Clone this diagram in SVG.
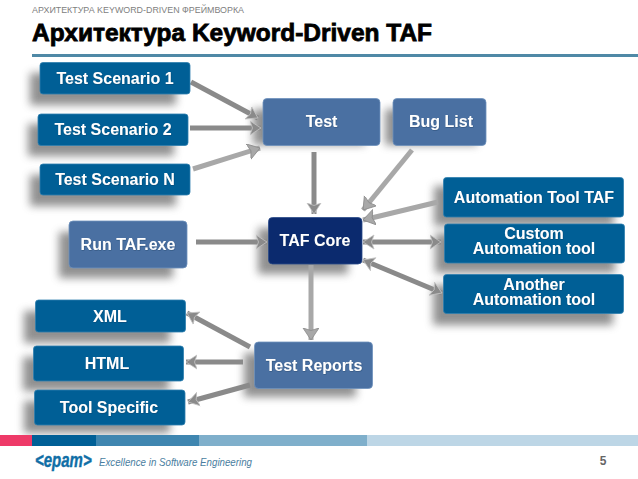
<svg xmlns="http://www.w3.org/2000/svg" width="638" height="479" viewBox="0 0 638 479">
<defs>
<style>
.t{font-family:"Liberation Sans",Arial,sans-serif;font-weight:700;font-size:16px;fill:#fff;text-anchor:middle;filter:url(#ts)}
.sc{fill:#005f96;stroke:#2f7fae;stroke-width:.8}
.st{fill:#4a70a2;stroke:#6f92bd;stroke-width:.8}
.sh{fill:#666;opacity:.72;filter:url(#bl)}
.a{stroke:#8a8a8a;stroke-width:5;fill:none;marker-end:url(#h)}
.b{stroke:#8a8a8a;stroke-width:5;fill:none;marker-end:url(#h);marker-start:url(#hs)}
.l{stroke:#a8a8a8;stroke-width:5;fill:none;marker-end:url(#hl)}
</style>
<filter id="bl" x="-20%" y="-40%" width="140%" height="180%"><feGaussianBlur stdDeviation="4"/></filter>
<filter id="ts" x="-10%" y="-30%" width="120%" height="160%"><feDropShadow dx="0.4" dy="0.6" stdDeviation="0.4" flood-color="#103050" flood-opacity=".5"/></filter>
<marker id="h" markerUnits="userSpaceOnUse" markerWidth="14" markerHeight="18" refX="11" refY="8" orient="auto"><path d="M0 1L11 8L0 15L2.500 8Z" fill="#8a8a8a" stroke="#c4c4c4" stroke-width=".8"/></marker>
<marker id="hs" markerUnits="userSpaceOnUse" markerWidth="14" markerHeight="18" refX="0" refY="8" orient="auto"><path d="M11 1L0 8L11 15L8.500 8Z" fill="#8a8a8a" stroke="#c4c4c4" stroke-width=".8"/></marker>
<marker id="hl" markerUnits="userSpaceOnUse" markerWidth="16" markerHeight="18" refX="12" refY="8" orient="auto"><path d="M0 0L12 8L0 16L2.500 8Z" fill="#a8a8a8" stroke="#8a8a8a" stroke-width=".8"/></marker>
</defs>
<rect width="638" height="479" fill="#fff"/>
<g id="header">
<text x="32" y="13" font-family="Liberation Sans,Arial,sans-serif" font-size="9.800" fill="#808080" textLength="212" lengthAdjust="spacingAndGlyphs">АРХИТЕКТУРА KEYWORD-DRIVEN ФРЕЙМВОРКА</text>
<text x="32" y="41" font-family="Liberation Sans,Arial,sans-serif" font-size="24" font-weight="700" fill="#000" stroke="#000" stroke-width=".8" textLength="400" lengthAdjust="spacingAndGlyphs">Архитектура Keyword-Driven TAF</text>
<rect x="32" y="54" width="606" height="3" fill="#4f89a6"/>
</g>
<g id="shadows">
<rect class="sh" x="30" y="73" width="146" height="32"/>
<rect class="sh" x="28" y="124" width="146" height="32"/>
<rect class="sh" x="30" y="175" width="146" height="31"/>
<rect class="sh" x="253" y="109" width="112" height="36"/>
<rect class="sh" x="385" y="109" width="92" height="36"/>
<rect class="sh" x="434" y="186" width="180" height="40"/>
<rect class="sh" x="435" y="233" width="180" height="40"/>
<rect class="sh" x="433" y="285" width="180" height="40"/>
<rect class="sh" x="258" y="228" width="90" height="46"/>
<rect class="sh" x="59" y="232" width="114" height="46"/>
<rect class="sh" x="24" y="311" width="146" height="32"/>
<rect class="sh" x="23" y="357" width="146" height="34"/>
<rect class="sh" x="24" y="401" width="146" height="32"/>
<rect class="sh" x="244" y="353" width="112" height="44"/>
</g>
<g id="footer">
<rect x="0" y="435" width="32" height="11" fill="#ee3a68"/>
<rect x="32" y="435" width="64" height="11" fill="#005f96"/>
<rect x="96" y="435" width="103" height="11" fill="#3f86b0"/>
<rect x="199" y="435" width="168" height="11" fill="#7fafcb"/>
<rect x="367" y="435" width="271" height="11" fill="#bdd6e6"/>
<text transform="translate(35 467) scale(1 1.35)" font-family="Liberation Sans,Arial,sans-serif" font-size="15" font-weight="700" font-style="italic" fill="#0f6ea6" stroke="#0f6ea6" stroke-width=".3">&lt;epam&gt;</text>
<text x="99" y="466" font-family="Liberation Sans,Arial,sans-serif" font-size="10.600" font-style="italic" fill="#4a7ea0" textLength="153" lengthAdjust="spacingAndGlyphs">Excellence in Software Engineering</text>
<text x="603" y="465" font-family="Liberation Sans,Arial,sans-serif" font-size="12" font-weight="700" fill="#666" text-anchor="middle">5</text>
</g>
<g id="connectors">
<path class="a" d="M191 82L258 118"/>
<path class="a" d="M190 128L261 128"/>
<path class="l" d="M193 169L260 148"/>
<path class="a" d="M314 152V214"/>
<path class="l" d="M412 150L363 210"/>
<path class="l" d="M438 202L363 220"/>
<path class="b" d="M363 242H441"/>
<path class="b" d="M363 260L442 293"/>
<path class="a" d="M196 242H267"/>
<path class="l" d="M311 265V340"/>
<path class="a" d="M250 347L187 313"/>
<path class="a" d="M243 362H186"/>
<path class="a" d="M250 385L188 402"/>
</g>
<g id="n-ts1"><rect class="sc" x="40" y="62.500" width="150" height="31.500" rx="3"/><text class="t" x="115" y="84">Test Scenario 1</text></g>
<g id="n-ts2"><rect class="sc" x="38" y="114" width="150" height="31.500" rx="3"/><text class="t" x="113" y="135">Test Scenario 2</text></g>
<g id="n-tsn"><rect class="sc" x="40" y="164" width="150" height="31" rx="3"/><text class="t" x="115" y="185">Test Scenario N</text></g>
<g id="n-test"><rect class="st" x="263" y="98.500" width="117" height="47" rx="4"/><text class="t" x="321.500" y="127">Test</text></g>
<g id="n-bug"><rect class="st" x="393" y="98.500" width="93" height="47" rx="4"/><text class="t" x="441" y="127">Bug List</text></g>
<g id="n-att"><rect class="sc" x="443.500" y="177.500" width="180" height="39.500" rx="3"/><text class="t" x="534" y="203">Automation Tool TAF</text></g>
<g id="n-custom"><rect class="sc" x="444.500" y="224" width="180" height="39" rx="3"/><text class="t" x="534" y="238.500">Custom<tspan x="534" dy="15.500">Automation tool</tspan></text></g>
<g id="n-another"><rect class="sc" x="443.500" y="274.500" width="180" height="39" rx="3"/><text class="t" x="534" y="289.500">Another<tspan x="534" dy="15.500">Automation tool</tspan></text></g>
<g id="n-core"><rect x="268.500" y="217.500" width="93.500" height="46.500" rx="4" fill="#0b2a6e" stroke="#2a4a88" stroke-width=".8"/><text class="t" x="315" y="246">TAF Core</text></g>
<g id="n-run"><rect class="st" x="69" y="221" width="118" height="47" rx="4"/><text class="t" x="128" y="250">Run TAF.exe</text></g>
<g id="n-xml"><rect class="sc" x="35.500" y="300" width="150" height="32" rx="3"/><text class="t" x="110" y="322">XML</text></g>
<g id="n-html"><rect class="sc" x="33.500" y="346" width="150" height="35" rx="3"/><text class="t" x="107" y="369">HTML</text></g>
<g id="n-tool"><rect class="sc" x="34.500" y="390" width="150.500" height="35" rx="3"/><text class="t" x="109" y="413">Tool Specific</text></g>
<g id="n-reports"><rect class="st" x="254.500" y="342" width="118" height="46.500" rx="4"/><text class="t" x="314" y="371">Test Reports</text></g>
</svg>
